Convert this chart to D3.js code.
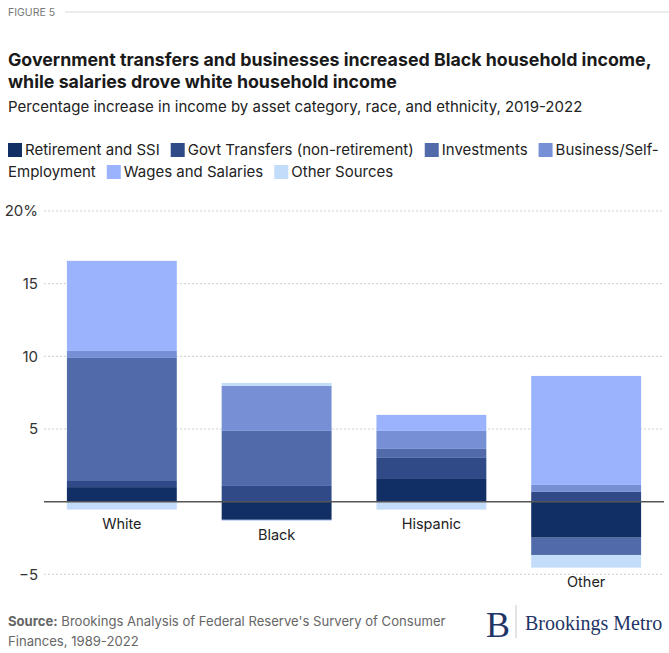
<!DOCTYPE html>
<html>
<head>
<meta charset="utf-8">
<script src="https://cdn.jsdelivr.net/npm/d3@7"></script>
<style>
body { margin: 0; background: #fff; }
svg { font-family: Inter, sans-serif; display: block; }
</style>
</head>
<body>
<svg id="chart"></svg>
<script>
var w = 669;
var h = 653;

var categories = ['White', 'Black', 'Hispanic', 'Other'];
var seriesNames = ['Retirement and SSI', 'Govt Transfers (non-retirement)', 'Investments',
  'Business/Self-Employment', 'Wages and Salaries', 'Other Sources'];
var colors = ['#112f64', '#2f4a86', '#516aa9', '#778fd4', '#9bb3fc', '#c2dcfa'];

// percentage points
var retirement = [1.0, -1.25, 1.56, -2.48];
var govtTransfers = [0.42, 1.08, 1.45, 0.67];
var investments = [8.47, 3.79, 0.62, -1.19];
var business = [0.48, 3.09, 1.24, 0.48];
var wages = [6.2, -0.05, 1.1, 7.5];
var otherSources = [-0.55, 0.21, -0.55, -0.87];
var yTicks = [-5, 0, 5, 10, 15, 20];

var seriesValues = [retirement, govtTransfers, investments, business, wages, otherSources];

var rows = categories.map(function (c, i) {
  var r = {cat: c};
  seriesNames.forEach(function (s, j) { r[s] = seriesValues[j][i]; });
  return r;
});

var stacked = d3.stack()
  .keys(seriesNames)
  .offset(d3.stackOffsetDiverging)(rows);

var svg = d3.select('#chart').attr('width', w).attr('height', h);

var x = d3.scaleBand()
  .domain(categories)
  .range([44, 664])
  .paddingInner(0.29)
  .paddingOuter(0.148);

var y = d3.scaleLinear()
  .domain([-5, 20])
  .range([574.3, 211]);

// header
svg.append('text').text('FIGURE 5')
  .attr('x', 8).attr('y', 16)
  .attr('font-size', '10.5px').attr('fill', '#777');
svg.append('line')
  .attr('x1', 65).attr('x2', 669).attr('y1', 12).attr('y2', 12)
  .attr('stroke', '#e6e6e6').attr('stroke-width', 1.5);

svg.append('text').text('Government transfers and businesses increased Black household income,')
  .attr('x', 8).attr('y', 66)
  .attr('font-size', '17.8px').attr('font-weight', 700).attr('fill', '#1a1a1a');
svg.append('text').text('while salaries drove white household income')
  .attr('x', 8).attr('y', 88)
  .attr('font-size', '17.8px').attr('font-weight', 700).attr('fill', '#1a1a1a');
svg.append('text').text('Percentage increase in income by asset category, race, and ethnicity, 2019-2022')
  .attr('x', 8).attr('y', 112)
  .attr('font-size', '15px').attr('fill', '#222');

// legend: simple flow layout, wraps at a hyphen if a label doesn't fit
var lg = svg.append('g');
var lx = 8, ly = 155, maxX = 663, lineH = 22;

function addText(str, xx, yy) {
  return lg.append('text').text(str)
    .attr('x', xx).attr('y', yy)
    .attr('font-size', '15px').attr('fill', '#222');
}

seriesNames.forEach(function (s, i) {
  var t = addText(s, 0, 0);
  var tw = t.node().getComputedTextLength();
  t.remove();
  if (lx + 17 + tw > maxX) {
    var cut = s.lastIndexOf('-');
    var first = s.slice(0, cut + 1);
    var t1 = addText(first, 0, 0);
    var fw = t1.node().getComputedTextLength();
    t1.remove();
    if (cut > 0 && lx + 17 + fw <= maxX) {
      lg.append('rect').attr('x', lx).attr('y', ly - 12).attr('width', 14).attr('height', 14).attr('fill', colors[i]);
      addText(first, lx + 17, ly);
      ly += lineH;
      var rest = addText(s.slice(cut + 1), 8, ly);
      lx = 8 + rest.node().getComputedTextLength() + 11;
      return;
    }
    lx = 8;
    ly += lineH;
  }
  lg.append('rect').attr('x', lx).attr('y', ly - 12).attr('width', 14).attr('height', 14).attr('fill', colors[i]);
  addText(s, lx + 17, ly);
  lx += 17 + tw + 11;
});

// grid
svg.append('g')
  .selectAll('line')
  .data(yTicks.filter(function (d) { return d !== 0; }))
  .enter()
  .append('line')
  .attr('x1', 44).attr('x2', 664)
  .attr('y1', function (d) { return y(d); })
  .attr('y2', function (d) { return y(d); })
  .attr('stroke', '#cfcfcf')
  .attr('stroke-dasharray', '2,2');

// y axis labels
var yAxis = d3.axisLeft(y)
  .tickValues(yTicks.filter(function (d) { return d !== 0; }))
  .tickSize(0)
  .tickPadding(0)
  .tickFormat(function (d) { return d === 20 ? '20%' : (d < 0 ? '\u2212' + Math.abs(d) : d); });

var ya = svg.append('g').attr('transform', 'translate(38,0)').call(yAxis);
ya.select('.domain').remove();
ya.selectAll('text')
  .attr('font-family', 'Inter, sans-serif')
  .attr('font-size', '15px')
  .attr('fill', '#333');

// bars
svg.append('g')
  .selectAll('g')
  .data(stacked)
  .enter()
  .append('g')
  .attr('fill', function (d, i) { return colors[i]; })
  .selectAll('rect')
  .data(function (d) { return d; })
  .enter()
  .append('rect')
  .attr('x', function (d) { return x(d.data.cat); })
  .attr('width', x.bandwidth())
  .attr('y', function (d) { return y(Math.max(d[0], d[1])); })
  .attr('height', function (d) { return Math.abs(y(d[0]) - y(d[1])); });

// zero line
svg.append('line')
  .attr('x1', 44).attr('x2', 664)
  .attr('y1', y(0)).attr('y2', y(0))
  .attr('stroke', '#555').attr('stroke-width', 1.5);

// category labels under each bar
svg.append('g')
  .selectAll('text')
  .data(categories)
  .enter()
  .append('text')
  .text(function (d) { return d; })
  .attr('text-anchor', 'middle')
  .attr('font-size', '14.5px')
  .attr('fill', '#222')
  .attr('x', function (d) { return x(d) + x.bandwidth() / 2; })
  .attr('y', function (d, i) {
    var low = 0;
    seriesValues.forEach(function (s) { if (s[i] < 0) low += s[i]; });
    return y(low) + 19.5;
  });

// footer
var src = svg.append('text').attr('x', 8).attr('y', 626)
  .attr('font-size', '13.1px').attr('fill', '#666');
src.append('tspan').text('Source:').attr('font-weight', 700);
src.append('tspan').text(" Brookings Analysis of Federal Reserve's Survery of Consumer");
svg.append('text').text('Finances, 1989-2022')
  .attr('x', 8).attr('y', 646)
  .attr('font-size', '13.1px').attr('fill', '#666');

// logo
svg.append('text').text('B')
  .attr('x', 486).attr('y', 637)
  .attr('font-family', '"Liberation Serif", serif')
  .attr('font-size', '36px').attr('fill', '#1f3566');
svg.append('line')
  .attr('x1', 516).attr('x2', 516).attr('y1', 605).attr('y2', 638)
  .attr('stroke', '#c8c8c8').attr('stroke-width', 1);
svg.append('text').text('Brookings Metro')
  .attr('x', 525).attr('y', 630)
  .attr('font-family', '"Liberation Serif", serif')
  .attr('font-size', '20px').attr('fill', '#1f3566');
</script>
</body>
</html>
